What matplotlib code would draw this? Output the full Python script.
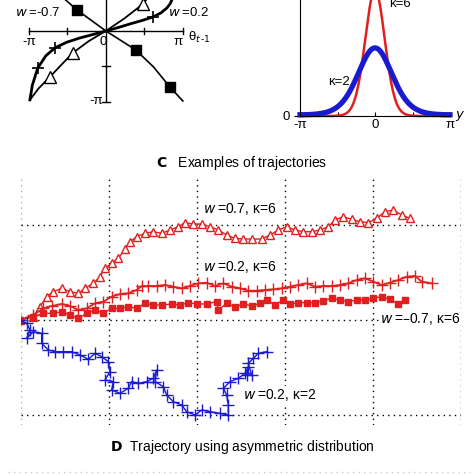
import numpy as np
import matplotlib
matplotlib.use("Agg")
import matplotlib.pyplot as plt

plt.rcParams['font.family'] = ['Liberation Sans', 'DejaVu Sans']

# ---- Panel A: transfer curves (theta units) ----
a_plus_x = [-3.10, -3.0, -2.78, -2.45, -2.08, -1.6, -1.06, -0.5, 0, 0.5, 0.98, 1.5, 1.92, 2.25, 2.49, 2.62, 2.69]
a_plus_y = [-3.05, -2.4, -1.64, -1.1, -0.75, -0.5, -0.31, -0.15, 0, 0.15, 0.31, 0.47, 0.62, 0.8, 1.02, 1.2, 1.37]
a_plus_mx = [-2.78, -2.08, 1.92]
a_plus_my = [-1.64, -0.75, 0.62]
a_tri_x = [-3.10, -2.75, -2.29, -1.8, -1.35, -0.7, 0, 0.75, 1.51, 1.8]
a_tri_y = [-3.05, -2.55, -2.04, -1.48, -0.97, -0.45, 0, 0.55, 1.19, 1.6]
a_tri_mx = [-2.29, -1.35, 1.51]
a_tri_my = [-2.04, -0.97, 1.19]
a_sq_x = [-1.88, -1.18, 0, 1.22, 1.95, 2.61, 3.14]
a_sq_y = [1.6, 0.93, 0, -0.84, -1.6, -2.48, -3.1]
a_sq_mx = [-1.18, 1.22, 2.61]
a_sq_my = [0.93, -0.84, -2.48]

# ---- Panel B: von Mises kappas ----
kappas = [6, 2]
k_colors = ['#e02020', '#1a1ad0']

# ---- Panel C: trajectories (read in picture units) ----
tri_zx = [60,100,120,140,160,185,210,235,255,280,300,315,335,355,375,390,410,435,460,485,510,535,555,580,605,630,655,680,705,730,755,785,810,835,860,885,910,935,960,985,1005,1030,1055,1080,1105,1130,1155,1180,1205,1230]
tri_zy = [480,470,440,410,395,385,395,400,385,370,350,325,310,295,268,245,230,220,215,220,210,200,188,192,192,200,210,225,235,237,237,237,225,210,200,210,215,215,210,200,180,170,178,185,188,175,155,150,165,175]
plus_zx = [60,100,130,155,185,210,235,260,285,310,335,360,385,410,425,445,470,495,520,545,570,595,620,645,670,695,720,745,770,795,820,845,870,895,920,945,970,995,1020,1045,1070,1095,1120,1145,1170,1195,1220,1245,1265,1295]
plus_zy = [480,465,445,438,432,438,450,445,430,425,410,402,400,390,378,378,378,375,380,385,378,370,368,378,370,380,385,392,392,390,388,385,380,375,370,380,378,378,375,370,360,355,365,375,368,360,350,348,365,370]
sq_zx = [60,100,130,160,185,210,235,260,285,310,335,360,385,410,435,460,485,515,540,565,590,620,650,655,680,705,730,755,780,800,825,850,870,895,920,945,970,995,1020,1045,1070,1095,1120,1145,1170,1195,1215]
sq_zy = [480,470,460,460,455,465,475,460,450,460,445,445,440,445,430,435,435,432,435,428,432,432,425,450,430,440,432,438,430,420,435,420,432,428,428,428,422,415,420,425,420,420,415,410,418,432,420]
blue_zx = [60,80,90,80,100,125,125,145,165,190,215,240,265,285,305,325,330,315,340,335,360,385,395,415,440,460,470,465,490,500,520,545,560,585,605,630,660,685,685,680,670,690,715,735,745,740,755,745,760,775,800]
blue_zy = [480,490,510,535,515,520,550,570,575,575,575,585,598,580,590,605,635,660,665,690,700,685,665,670,665,655,630,665,680,705,725,735,755,765,750,755,760,765,735,705,685,665,655,640,620,645,645,610,595,580,575]

def gx(z): return (np.asarray(z) - 63) / 264.0
def gy(z): return (480 - np.asarray(z)) / 285.0

W = H = 474
fig = plt.figure(figsize=(4.74, 4.74), dpi=100)

def ax_px(x0, y0, x1, y1):
    return fig.add_axes([x0 / W, 1 - y1 / H, (x1 - x0) / W, (y1 - y0) / H])

# Panel A
axA = ax_px(0, 0, 200, 115)
axA.set_xlim(-4.32, 3.84); axA.set_ylim(-3.72, 1.37); axA.axis('off')
pi = np.pi
axA.plot([-pi, pi], [0, 0], color='k', lw=1)
axA.plot([0, 0], [-pi, 1.5], color='k', lw=1)
for t in [-pi, -pi/2, pi/2, pi]:
    axA.plot([t, t], [-0.15, 0.15], color='k', lw=1)
for t in [-pi/2, -pi]:
    axA.plot([-0.15, 0.15], [t, t], color='k', lw=1)
axA.plot(a_sq_x, a_sq_y, color='k', lw=1.2)
axA.plot(a_sq_mx, a_sq_my, 's', color='k', ms=7, ls='none')
axA.plot(a_plus_x, a_plus_y, color='k', lw=2)
axA.plot(a_plus_mx, a_plus_my, '+', color='k', ms=8, mew=1.2, ls='none')
axA.plot(a_tri_x, a_tri_y, color='k', lw=1.3)
axA.plot(a_tri_mx, a_tri_my, '^', mfc='white', mec='k', ms=9, ls='none')
fsA = 9.5
axA.text(-pi, -0.5, '-π', ha='center', va='center', fontsize=fsA)
axA.text(-0.1, -0.5, '0', ha='center', va='center', fontsize=fsA)
axA.text(pi - 0.2, -0.5, 'π', ha='center', va='center', fontsize=fsA)
axA.text(pi + 0.2, -0.3, r'θ$_{t\,\text{-}1}$', ha='left', va='center', fontsize=fsA)
axA.text(-0.4, -pi + 0.05, '-π', ha='center', va='center', fontsize=fsA)
axA.text(-3.7, 0.8, '$w$\u2009=-0.7', ha='left', va='center', fontsize=fsA)
axA.text(2.55, 0.8, '$w$\u2009=0.2', ha='left', va='center', fontsize=fsA)

# Panel B
axB = ax_px(300, 0, 450, 116)
axB.set_xlim(-pi, pi); axB.set_ylim(0, 116 / 132.0)
xs = np.linspace(-pi, pi, 400)
for k, c, lw in zip(kappas, k_colors, [1.8, 3.8]):
    axB.plot(xs, np.exp(k * np.cos(xs)) / (2 * pi * np.i0(k)), color=c, lw=lw, clip_on=False)
for s in ['top', 'right']:
    axB.spines[s].set_visible(False)
axB.set_xticks([-pi, -pi/2, 0, pi/2, pi]); axB.set_xticklabels(['-π', '', '0', '', 'π'], fontsize=fsA)
axB.tick_params(axis='x', direction='in', length=3, pad=2)
axB.set_yticks([0]); axB.set_yticklabels(['0'], fontsize=fsA)
axB.tick_params(axis='y', length=4, direction='out')
axB.text(pi + 0.2, 0.0, '$y$', fontsize=fsA, va='center')
axB.text(0.6, 0.85, 'κ=6', fontsize=fsA, va='center')
axB.text(-1.95, 0.26, 'κ=2', fontsize=fsA, va='center')

# Panel C
fig.text(242 / W, 1 - 163 / H, r'$\mathbf{C}$   Examples of trajectories', ha='center', va='center', fontsize=10)
axC = ax_px(21, 175, 461, 425)
axC.set_xlim(0, 5); axC.set_ylim(-(425 - 320) / 95.0, (320 - 175) / 95.0)
axC.axis('off')
for gxv in range(0, 6):
    axC.axvline(gxv, color='k' if 0 < gxv else '#aaaaaa', ls=(0, (1, 3)), lw=1, zorder=0)
for gyv in [-1, 0, 1]:
    axC.axhline(gyv, color='k', ls=(0, (1, 3)), lw=1, zorder=0)
red = '#e02020'
axC.plot(gx(tri_zx), gy(tri_zy), color=red, lw=1, marker='^', mfc='white', mec=red, ms=6)
axC.plot(gx(plus_zx), gy(plus_zy), color=red, lw=1.3, marker='+', ms=8, mew=1)
axC.plot(gx(sq_zx), gy(sq_zy), color=red, lw=1, marker='s', ms=4)
axC.plot(gx(blue_zx), gy(blue_zy), color='#1a1ad0', lw=1, marker='+', ms=8, mew=1)
fs = 10
bb = dict(facecolor='white', edgecolor='none', pad=0.5)
axC.text(gx(720), gy(148), '$w$\u2009=0.7, κ=6', ha='center', va='center', fontsize=fs, bbox=bb)
axC.text(gx(720), gy(322), '$w$\u2009=0.2, κ=6', ha='center', va='center', fontsize=fs, bbox=bb)
axC.text(gx(1262), gy(478), '$w$\u2009=\u20130.7, κ=6', ha='center', va='center', fontsize=fs, bbox=bb)
axC.text(gx(840), gy(705), '$w$\u2009=0.2, κ=2', ha='center', va='center', fontsize=fs, bbox=bb)

fig.text(242 / W, 1 - 447 / H, r'$\mathbf{D}$  Trajectory using asymmetric distribution', ha='center', va='center', fontsize=10)
fig.add_artist(plt.Line2D([8 / W, 470 / W], [1 - 472 / H] * 2, color='#cccccc', ls=(0, (1, 3)), lw=1))

fig.savefig('out.png', dpi=100)
